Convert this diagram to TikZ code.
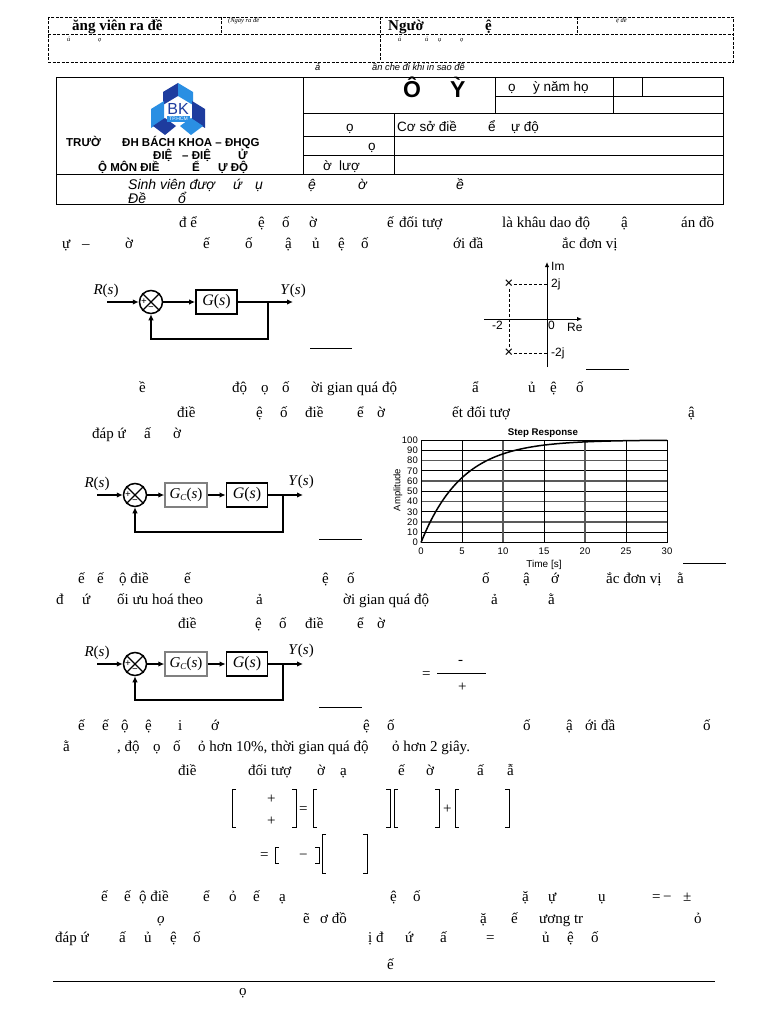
\documentclass[tikz,border=0pt]{standalone}
\usepackage{fontspec}
\setmainfont{Liberation Serif}
\setsansfont{Liberation Sans}
\usetikzlibrary{arrows.meta}
\definecolor{bkdark}{HTML}{1E3C9E}
\definecolor{bklight}{HTML}{2A8FE3}
\tikzset{
    bodytext/.style={anchor=base west,inner sep=0pt,font=\fontsize{15}{17}\selectfont},
    headtext/.style={anchor=base west,inner sep=0pt,font=\sffamily\bfseries\fontsize{11.5}{13}\selectfont},
    celltext/.style={anchor=base west,inner sep=0pt,font=\sffamily\fontsize{13.5}{15}\selectfont},
    slanttext/.style={anchor=base west,inner sep=0pt,font=\sffamily\itshape\fontsize{14}{16}\selectfont},
    tinytext/.style={anchor=base west,inner sep=0pt,font=\itshape\fontsize{6.5}{8}\selectfont},
    boldtext/.style={anchor=base west,inner sep=0pt,font=\bfseries\fontsize{15}{17}\selectfont},
    plottext/.style={inner sep=0pt,font=\sffamily\fontsize{9.5}{10}\selectfont},
    poletext/.style={inner sep=0pt,font=\sffamily\fontsize{12}{13}\selectfont},
    sigtext/.style={inner sep=0pt,font=\fontsize{15}{17}\selectfont},
    sumnode/.style={draw,circle,line width=1.5pt,minimum size=23pt,inner sep=0pt},
    blocknode/.style={draw,line width=1.8pt,minimum height=24pt,font=\fontsize{16}{18}\selectfont,inner sep=0pt},
    gcnode/.style={draw=gray,line width=1.4pt,minimum height=24pt,font=\fontsize{15}{17}\selectfont,inner sep=0pt},
    sigline/.style={line width=1.3pt,-{Latex[length=6pt,width=5.5pt]}},
    fbline/.style={line width=1.3pt},
    stampline/.style={line width=0.8pt,dash pattern=on 3pt off 1.5pt},
    signtext/.style={inner sep=0pt,font=\bfseries\fontsize{10}{10}\selectfont},
}
\newcommand{\bodyline}[2]{\foreach \tx/\txt in {#2} \node[bodytext] (l#1-\tx) at (\tx,#1) {\txt};}
\newcommand{\headline}[2]{\foreach \tx/\txt in {#2} \node[headtext] (h#1-\tx) at (\tx,#1) {\txt};}
\newcommand{\cellline}[2]{\foreach \tx/\txt in {#2} \node[celltext] (c#1-\tx) at (\tx,#1) {\txt};}
\newcommand{\slantline}[2]{\foreach \tx/\txt in {#2} \node[slanttext] (s#1-\tx) at (\tx,#1) {\txt};}
\newcommand{\tinyline}[2]{\foreach \tx/\txt in {#2} \node[tinytext] (n#1-\tx) at (\tx,#1) {\txt};}
\newcommand{\sigRs}{\textit{R}(\textit{s})}
\newcommand{\sigYs}{\textit{Y}(\textit{s})}
\newcommand{\sigGs}{\textit{G}(\textit{s})}
\newcommand{\sigGc}{\textit{G}\raisebox{-2pt}{\fontsize{9}{9}\selectfont\textit{C}}(\textit{s})}

\begin{document}
\begin{tikzpicture}[x=1pt,y=-1pt]
    \useasboundingbox (0,0) rectangle (768,1024);

    % exam stamp at the top
    \draw[stampline] (48,17) rectangle (733,62);
    \draw[stampline] (48,34) -- (733,34);
    \draw[stampline] (221,17) -- (221,34);
    \draw[stampline] (380,17) -- (380,62);
    \draw[stampline] (577,17) -- (577,34);
    \foreach \tx/\txt in {72/ăng viên ra đề,388/Ngườ,485/ệ} \node[boldtext] (b31-\tx) at (\tx,31) {\txt};
    \tinyline{23}{228/(Ngày ra đề,616/ệ đề}
    \tinyline{42}{67/ủ,98/ọ,398/ủ,425/ủ,438/ụ,460/ọ}
    \node[tinytext,font=\sffamily\itshape\fontsize{9.3}{11}\selectfont] (mask1) at (315,71) {ả};
    \node[tinytext,font=\sffamily\itshape\fontsize{9.3}{11}\selectfont] (mask2) at (372,71) {ần che đi khi in sao đề};

    % heading table
    \draw[line width=1pt] (56,78) rectangle (723,205);
    \draw[line width=1pt] (303,78) -- (303,175);
    \draw[line width=1pt] (56,175) -- (723,175);
    \draw[line width=1pt] (303,114) -- (723,114);
    \draw[line width=1pt] (303,137) -- (723,137);
    \draw[line width=1pt] (303,156) -- (723,156);
    \draw[line width=1pt] (394,114) -- (394,175);
    \draw[line width=1pt] (495,78) -- (495,114);
    \draw[line width=1pt] (613,78) -- (613,114);
    \draw[line width=1pt] (642,78) -- (642,97);
    \draw[line width=1pt] (495,97) -- (723,97);

    % logo
    \fill[bkdark] (178,83) -- (163,92) -- (163,105) -- (178,96) -- cycle;
    \fill[bklight] (178,83) -- (193,92) -- (193,105) -- (178,96) -- cycle;
    \fill[bklight] (151,109) -- (164,101) -- (164,120) -- (151,128) -- cycle;
    \fill[bkdark] (205,109) -- (192,101) -- (192,120) -- (205,128) -- cycle;
    \fill[bkdark] (153,126) -- (165,118) -- (176,126) -- (165,135) -- cycle;
    \fill[bklight] (180,126) -- (191,118) -- (203,126) -- (191,135) -- cycle;
    \fill[bklight] (167,116) rectangle (190,122);
    \node[inner sep=0pt,text=bkdark,font=\sffamily\fontsize{16}{16}\selectfont] (bklogo) at (178,109) {BK};
    \node[inner sep=0pt,text=white,font=\sffamily\fontsize{5}{5}\selectfont] (bkcity) at (178.5,119) {TP.HCM};

    \headline{147}{66/TRƯỜ,122/ĐH BÁCH KHOA – ĐHQG}
    \headline{160}{153/ĐIỆ,182/– ĐIỆ,238/Ử}
    \headline{172}{98/Ộ MÔN ĐIỀ,192/Ể,218/Ự ĐỘ}
    \node[headtext,font=\sffamily\bfseries\fontsize{23}{25}\selectfont] (titlea) at (403,98) {Ô};
    \node[headtext,font=\sffamily\bfseries\fontsize{23}{25}\selectfont] (titleb) at (450,98) {Ỳ};
    \cellline{92}{508/ọ,533/ỳ năm họ}
    \cellline{132}{346/ọ,397/Cơ sở điề,488/ể,511/ự độ}
    \cellline{151}{368/ọ}
    \cellline{171}{323/ờ,339/lượ}
    \slantline{190}{128/Sinh viên đượ,233/ứ,255/ụ,308/ệ,358/ờ,456/ề}
    \slantline{204}{128/Đề,178/ổ}

    % first question
    \bodyline{228}{179/đ ể,258/ệ,282/ố,309/ờ,387/ế,399/đối tượ,502/là khâu dao độ,621/ậ,681/án đồ}
    \bodyline{248}{62/ự,82/–,125/ờ,203/ế,245/ố,285/ậ,312/ủ,338/ệ,361/ố,453/ới đầ,562/ắc đơn vị}

    \node[sumnode] (suma) at (151,302) {};
    \draw[line width=1.2pt] (suma.45) -- (suma.225) (suma.135) -- (suma.315);
    \node[blocknode,minimum width=41pt] (ga) at (216.5,302) {\sigGs};
    \coordinate (ina) at (107,302);
    \coordinate (outa) at (293,302);
    \coordinate (taka) at (268,302);
    \coordinate (bota) at (268,339);
    \node[sigtext] (ra) at (106,291) {\sigRs};
    \node[sigtext] (ya) at (293,291) {\sigYs};
    \draw[sigline] (ina) -- (suma);
    \draw[sigline] (suma) -- (ga);
    \draw[sigline] (ga) -- (outa);
    \draw[fbline,-{Latex[length=6pt,width=5.5pt]}] (taka) -- (bota) -| (suma.south);
    \node[signtext] (pa) at (144,302) {+};
    \node[signtext] (ma) at (151,308.5) {−};
    \draw[line width=1pt] (310,348) -- (352,348);

    % pole map
    \coordinate (imlow) at (547,367);
    \coordinate (imtop) at (547,262);
    \coordinate (releft) at (484,319);
    \coordinate (reright) at (582,319);
    \draw[line width=1pt,-{Latex[length=5pt,width=4.5pt]}] (imlow) -- (imtop);
    \draw[line width=1pt,-{Latex[length=5pt,width=4.5pt]}] (releft) -- (reright);
    \node[inner sep=0pt,font=\bfseries\fontsize{16}{16}\selectfont] (polea) at (509,284) {×};
    \node[inner sep=0pt,font=\bfseries\fontsize{16}{16}\selectfont] (poleb) at (509,353) {×};
    \draw[line width=0.9pt,dash pattern=on 3pt off 2pt] (polea) -- (547,284);
    \draw[line width=0.9pt,dash pattern=on 3pt off 2pt] (poleb) -- (547,353);
    \draw[line width=1pt,dash pattern=on 3pt off 2pt] (polea) -- (poleb);
    \node[poletext,anchor=west] (imlabel) at (551,266) {Im};
    \node[poletext,anchor=west] (plusj) at (551,284) {2j};
    \node[poletext,anchor=west] (negj) at (551,353) {-2j};
    \node[poletext,anchor=west] (zero) at (548,325) {0};
    \node[poletext,anchor=west] (relabel) at (567,327) {Re};
    \node[poletext,anchor=west] (negtwo) at (492,325) {-2};
    \draw[line width=1pt] (586,369) -- (629,369);

    \bodyline{392}{139/ề,232/độ,261/ọ,282/ố,311/ời gian quá độ,472/ẩ,528/ủ,550/ệ,576/ố}
    \bodyline{417}{177/điề,256/ệ,280/ố,305/điề,357/ể,377/ờ,452/ết đối tượ,688/ậ}
    \bodyline{438}{92/đáp ứ,144/ấ,173/ờ}

    % both loops with a controller
    \foreach \ly/\ry/\yy/\ty/\nm in {495/484/482/532/b,664/653/651/700/c} {
        \node[sumnode] (sum\nm) at (135,\ly) {};
        \draw[line width=1.2pt] (sum\nm.45) -- (sum\nm.225) (sum\nm.135) -- (sum\nm.315);
        \node[gcnode,minimum width=42pt] (gc\nm) at (186,\ly) {\sigGc};
        \node[blocknode,minimum width=41pt] (g\nm) at (247,\ly) {\sigGs};
        \coordinate (in\nm) at (97,\ly);
        \coordinate (out\nm) at (303,\ly);
        \coordinate (tak\nm) at (283,\ly);
        \coordinate (bot\nm) at (283,\ty);
        \node[sigtext] (r\nm) at (97,\ry) {\sigRs};
        \node[sigtext] (y\nm) at (301,\yy) {\sigYs};
        \draw[sigline] (in\nm) -- (sum\nm);
        \draw[sigline] (sum\nm) -- (gc\nm);
        \draw[sigline] (gc\nm) -- (g\nm);
        \draw[sigline] (g\nm) -- (out\nm);
        \draw[fbline,-{Latex[length=6pt,width=5.5pt]}] (tak\nm) -- (bot\nm) -| (sum\nm.south);
        \node[signtext] (p\nm) at (128,\ly) {+};
        \node[signtext] (m\nm) at (135,\ly+6.5) {−};
    }
    \draw[line width=1pt] (319,539) -- (362,539);
    \draw[line width=1pt] (319,707) -- (362,707);

    % step response
    \foreach \v in {0,10,...,100} {
        \node[plottext,anchor=east] (tick\v) at (418,542.5-\v*1.025) {\v};
    }
    \foreach \v in {10,30,50,70,90} \draw[line width=0.8pt] (421,542.5-\v*1.025) -- (667,542.5-\v*1.025);
    \foreach \v in {20,40,60,80} \draw[line width=1.4pt,black!65] (421,542.5-\v*1.025) -- (667,542.5-\v*1.025);
    \foreach \t in {5,15,25} \draw[line width=0.8pt] (421+\t*8.2,440) -- (421+\t*8.2,542.5);
    \foreach \t in {10,20} \draw[line width=1.4pt,black!65] (421+\t*8.2,440) -- (421+\t*8.2,542.5);
    \foreach \t in {0,5,...,30} {
        \node[plottext] (xt\t) at (421+\t*8.2,551.5) {\t};
    }
    \draw[line width=1pt] (421,440) rectangle (667,542.5);
    \draw[line width=1.5pt,domain=0:30,samples=60,smooth] plot ({421+\x*8.2},{542.5-102.5*(1-exp(-\x/5))});
    \node[plottext,font=\sffamily\bfseries\fontsize{9.7}{10}\selectfont] (steptitle) at (543,433) {Step Response};
    \node[plottext,font=\sffamily\fontsize{10}{11}\selectfont] (timelabel) at (544,565) {Time [s]};
    \node[plottext,rotate=90] (amplabel) at (398,490) {Amplitude};
    \draw[line width=1pt] (683,563) -- (726,563);

    \bodyline{583}{78/ế,97/ế,119/ộ điề,184/ế,322/ệ,347/ố,482/ố,523/ậ,551/ớ,606/ắc đơn vị,677/ằ}
    \bodyline{604}{56/đ,82/ứ,117/ối ưu hoá theo,256/ả,343/ời gian quá độ,491/ả,548/ằ}
    \bodyline{628}{178/điề,255/ệ,279/ố,305/điề,357/ể,377/ờ}

    % transfer function
    \node[bodytext] (eqsign) at (422,678) {=};
    \draw[line width=0.8pt] (437,673) -- (486,673);
    \node[bodytext] (numsign) at (458,664) {-};
    \node[bodytext] (densign) at (458,691) {+};

    \bodyline{730}{78/ế,102/ế,121/ộ,145/ệ,178/i,211/ớ,363/ệ,387/ố,523/ố,566/ậ,585/ới đầ,703/ố}
    \bodyline{751}{63/ằ,117/{, độ},153/ọ,173/ố,198/{ỏ hơn 10\%, thời gian quá độ},392/ỏ hơn 2 giây.}
    \bodyline{775}{178/điề,248/đối tượ,317/ờ,340/ạ,398/ế,426/ờ,477/ấ,507/ẫ}

    % state equations
    \foreach \xl/\xr/\yt/\yb in {232/296/789/827,313/390/789/827,394/439/789/827,455/509/789/827,322/367/834/873,275/319/847/863} {
        \draw[line width=0.9pt] (\xl+4,\yt) -- (\xl,\yt) -- (\xl,\yb) -- (\xl+4,\yb);
        \draw[line width=0.9pt] (\xr-4,\yt) -- (\xr,\yt) -- (\xr,\yb) -- (\xr-4,\yb);
    }
    \bodyline{803}{267/+}
    \bodyline{825}{267/+}
    \bodyline{813}{299/=,443/+}
    \bodyline{859}{260/=,299/−}

    \bodyline{901}{101/ế,124/ế,139/ộ điề,203/ể,229/ỏ,253/ế,279/ạ,390/ệ,413/ố,522/ặ,548/ự,598/ụ,652/=,663/−,683/±}
    \node[bodytext,font=\itshape\fontsize{15}{17}\selectfont] (lastq) at (157,923) {ọ};
    \bodyline{923}{303/ẽ,320/ơ đồ,480/ặ,511/ế,539/ương tr,694/ỏ}
    \bodyline{942}{55/đáp ứ,119/ấ,144/ủ,170/ệ,193/ố,368/ị đ,405/ứ,440/ấ,486/=,542/ủ,567/ệ,591/ố}
    \bodyline{969}{387/ế}
    \draw[line width=1pt] (53,981) -- (715,981);
    \bodyline{995}{239/ọ}
\end{tikzpicture}
\end{document}
